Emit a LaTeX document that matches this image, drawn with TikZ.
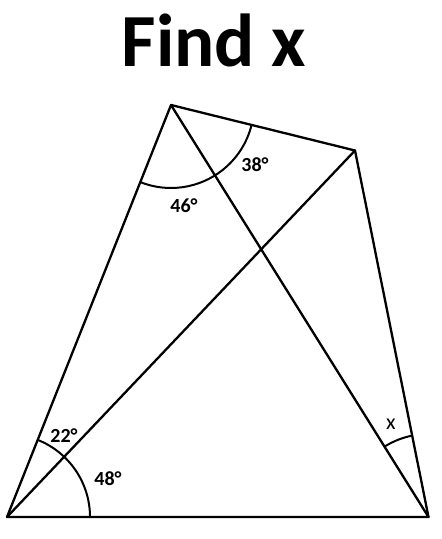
\documentclass[tikz,border=0pt]{standalone}
\usepackage{fontspec}
\setmainfont{Carlito}
\usetikzlibrary{calc}
\begin{document}
\begin{tikzpicture}[x=1pt,y=1pt,
  edge/.style={line width=2.3pt,line cap=round,line join=round},
  arcline/.style={line width=2pt},
  lbl/.style={font=\fontsize{20}{20}\selectfont\bfseries,inner sep=0pt}]
\useasboundingbox (0,0) rectangle (442,539);
\node[font=\fontsize{75}{75}\selectfont\bfseries,inner sep=0pt] (title) at (214,499) {Find x};
\coordinate (A) at (171,434);
\coordinate (B) at (355,388.5);
\coordinate (C) at (428.5,22);
\coordinate (D) at (7,22);
\draw[edge] (D) -- (A) -- (B) -- (C) -- cycle;
\draw[edge] (A) -- (C);
\draw[edge] (D) -- (B);
% arcs
\draw[arcline] let \p1=($(D)-(A)$), \p2=($(B)-(A)$), \n1={atan2(\y1,\x1)}, \n2={atan2(\y2,\x2)} in
  ($(A)+(\n1:83)$) arc[start angle=\n1, end angle=\n2, radius=83];
\draw[arcline] let \p1=($(A)-(D)$), \n1={atan2(\y1,\x1)} in
  ($(D)+(0:83)$) arc[start angle=0, end angle=\n1, radius=83];
\draw[arcline] let \p1=($(B)-(C)$), \p2=($(A)-(C)$), \n1={atan2(\y1,\x1)}, \n2={atan2(\y2,\x2)} in
  ($(C)+(\n1:83)$) arc[start angle=\n1, end angle=\n2, radius=83];
\node[lbl] (l46) at (184,333) {46°};
\node[lbl] (l38) at (255,374) {38°};
\node[lbl] (l22) at (64,103) {22°};
\node[lbl] (l48) at (108,60) {48°};
\node[lbl,font=\fontsize{22}{22}\selectfont] (lx) at (391,115) {x};
\end{tikzpicture}
\end{document}
